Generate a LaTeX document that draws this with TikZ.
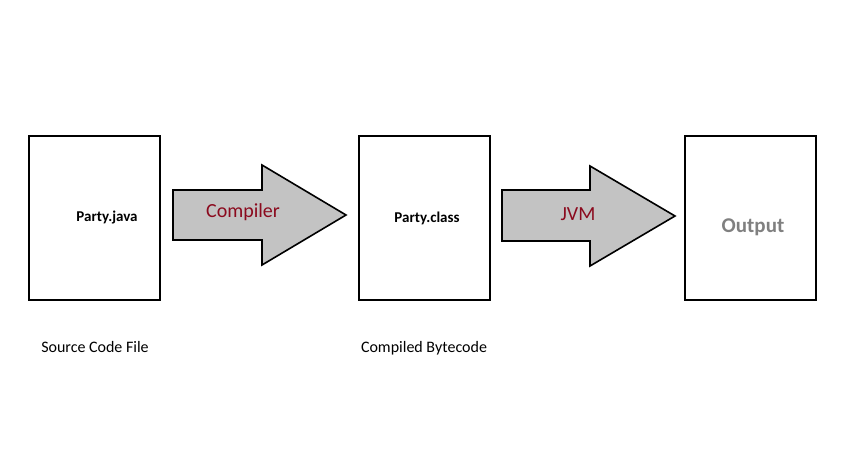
\documentclass[tikz,border=0pt]{standalone}
\usepackage{fontspec}
\setmainfont{Carlito}
\usetikzlibrary{positioning}
\definecolor{labelred}{HTML}{8B0A1E}
\definecolor{arrowgray}{HTML}{C3C3C3}
\tikzset{
  file/.style={draw, line width=2pt, minimum width=131pt, minimum height=164pt, inner sep=0pt},
  bigarrow/.style={draw, line width=1.6pt, fill=arrowgray, line join=miter},
  tool/.style={text=labelred, font=\fontsize{20}{24}\selectfont},
  caption/.style={font=\fontsize{16}{19}\selectfont}
}
\begin{document}
\begin{tikzpicture}[x=1pt, y=-1pt]
	\useasboundingbox (0,0) rectangle (841,461);
	\node[file] (src) at (94.5,218) {};
	\node[file] (cls) at (424,218) {};
	\node[file] (out) at (750,217.5) {};
	\node[font=\bfseries\fontsize{15}{18}\selectfont] (srcname) at (107,218) {Party.java};
	\node[font=\bfseries\fontsize{15}{18}\selectfont] (clsname) at (427,218) {Party.class};
	\node[font=\bfseries\fontsize{21}{25}\selectfont, text=gray] (outname) at (753,227) {Output};
	% arrows between files
	\draw[bigarrow] (173,190) -- (262,190) -- (262,165) -- (346,215) -- (262,265) -- (262,240) -- (173,240) -- cycle;
	\draw[bigarrow] (502,190) -- (590,190) -- (590,166) -- (675,216) -- (590,266) -- (590,241) -- (502,241) -- cycle;
	\node[tool] (compiler) at (243,212) {Compiler};
	\node[tool] (jvm) at (578,214) {JVM};
	\node[caption] (srccap) at (95,347) {Source Code File};
	\node[caption] (clscap) at (424,348) {Compiled Bytecode};
\end{tikzpicture}
\end{document}
